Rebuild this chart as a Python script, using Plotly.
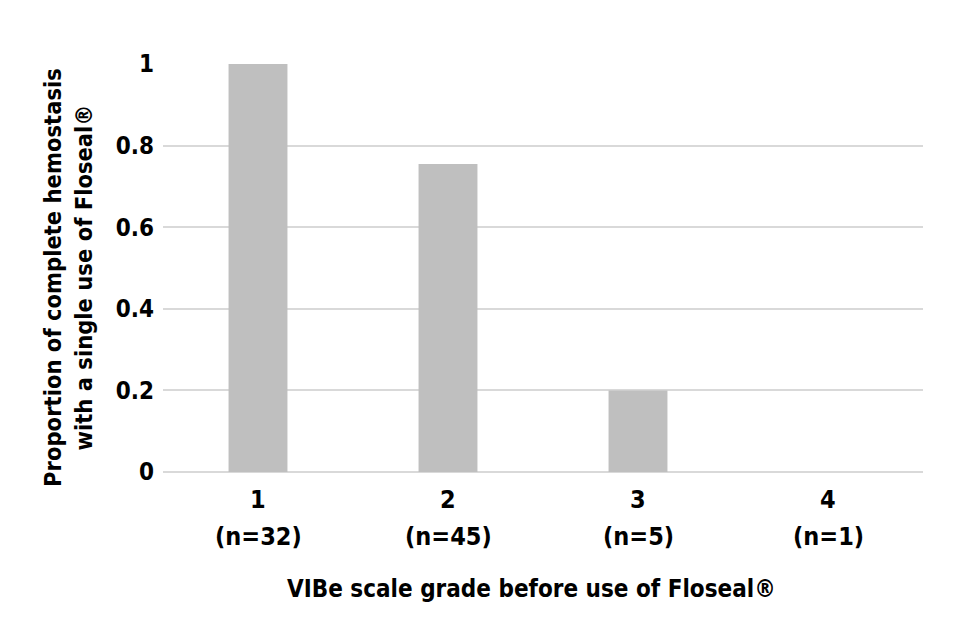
import plotly.graph_objects as go

grades = ["1", "2", "3", "4"]
counts = [32, 45, 5, 1]
proportions = [1.0, 0.755, 0.2, 0.0]
y_ticks = [0, 0.2, 0.4, 0.6, 0.8, 1]

FONT = "DejaVu Sans Condensed"

fig = go.Figure(go.Bar(
    x=grades, y=proportions,
    marker=dict(color="#bfbfbf", line=dict(width=0)),
))

# page body has an 8px margin, so the figure is 16px smaller than the window
fig.update_layout(
    width=964, height=625,
    margin=dict(l=155, r=49, t=56, b=161),
    plot_bgcolor="white", paper_bgcolor="white",
    bargap=0.69,
    showlegend=False,
    font=dict(family=FONT, size=24, color="black"),
)
fig.update_xaxes(type="category", range=[-0.5, len(grades) - 0.5],
                 showticklabels=False, showline=False, ticks="")
fig.update_yaxes(
    range=[0, 1], tickvals=y_ticks,
    ticktext=[f"<b>{t:g}</b>" for t in y_ticks],
    tickfont=dict(family=FONT, size=24),
    gridcolor="#d9d9d9", gridwidth=1.5,
    zeroline=True, zerolinecolor="#d9d9d9", zerolinewidth=1.5,
    ticks="", ticklabelstandoff=8,
)

# two-line category labels (grade, then n) with the wider spacing of the original
for i, (g, n) in enumerate(zip(grades, counts)):
    fig.add_annotation(x=i, xref="x", y=-0.0674, yref="paper", text=f"<b>{g}</b>",
                       xanchor="center", yanchor="middle",
                       showarrow=False, font=dict(family=FONT, size=25))
    fig.add_annotation(x=i, xref="x", y=-0.158, yref="paper", text=f"<b>(n={n})</b>",
                       xanchor="center", yanchor="middle",
                       showarrow=False, font=dict(family=FONT, size=25))

fig.add_annotation(x=0.4855, xref="paper", y=-0.287, yref="paper",
                   xanchor="center", yanchor="middle",
                   text="<b>VIBe scale grade before use of Floseal®</b>",
                   showarrow=False, font=dict(family=FONT, size=24))
fig.add_annotation(x=-0.1237, xref="paper", y=0.478, yref="paper", textangle=-90,
                   xanchor="center", yanchor="middle",
                   text="<b>Proportion of complete hemostasis<br>with a single use of Floseal®</b>",
                   showarrow=False, font=dict(family=FONT, size=23.5))

fig.write_html("out.html")
